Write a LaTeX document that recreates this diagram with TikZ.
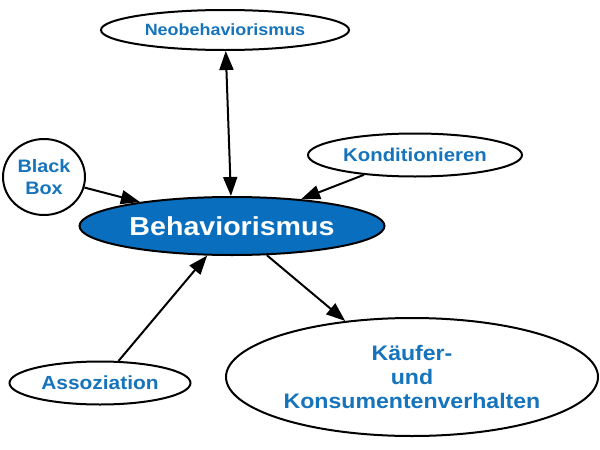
\documentclass[tikz,border=0pt]{standalone}
\usepackage{fontspec}
\setmainfont{Liberation Sans}[FakeStretch=1.1]
\usetikzlibrary{shapes.geometric,arrows.meta}
\definecolor{txtblue}{RGB}{22,116,188}
\definecolor{fillblue}{RGB}{10,110,190}
\tikzset{
  bubble/.style={ellipse, draw=black, line width=2pt, fill=white, inner sep=0pt,
    text=txtblue, align=center, font=\bfseries},
  tip/.tip={Triangle[length=19pt,width=14pt]},
  arr/.style={line width=2pt, -tip},
  darr/.style={line width=2pt, tip-tip}
}
\begin{document}
\begin{tikzpicture}[x=1pt,y=-1pt]
\useasboundingbox (0,0) rectangle (600,450);
\node[bubble, minimum width=248pt, minimum height=40pt, font=\bfseries\fontsize{16.3}{19}\selectfont] (neo) at (225,30) {Neobehaviorismus};
\node[bubble, minimum width=82pt, minimum height=76pt, font=\bfseries\fontsize{18}{22}\selectfont] (bb) at (44,177) {Black\\Box};
\node[bubble, minimum width=214pt, minimum height=43pt, font=\bfseries\fontsize{18.5}{22}\selectfont] (kon) at (415,155) {Konditionieren};
\node[bubble, minimum width=181pt, minimum height=43pt, font=\bfseries\fontsize{19}{22}\selectfont] (ass) at (100,383) {Assoziation};
\node[bubble, minimum width=372pt, minimum height=118pt, font=\bfseries\fontsize{21}{24}\selectfont] (kv) at (412,377) {Käufer-\\und\\Konsumentenverhalten};
\node[bubble, fill=fillblue, text=white, minimum width=305pt, minimum height=58pt, font=\bfseries\fontsize{26}{30}\selectfont] (beh) at (232,226) {Behaviorismus};
\draw[darr] (neo) -- (beh);
\draw[arr] (bb) -- (beh);
\draw[arr] (kon) -- (beh);
\draw[arr] (ass) -- (beh);
\draw[arr] (beh) -- (kv);
\end{tikzpicture}
\end{document}
